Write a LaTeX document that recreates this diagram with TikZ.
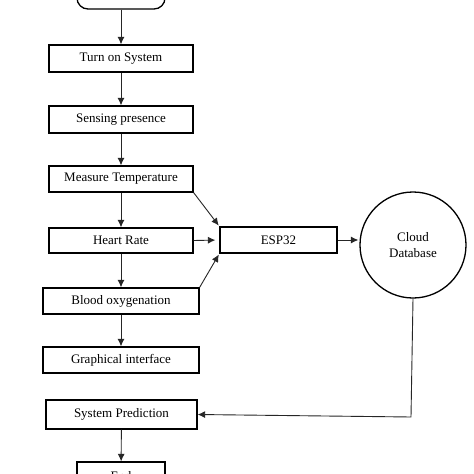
\documentclass[tikz,border=0pt]{standalone}
\usepackage{fontspec}
\setmainfont{Liberation Serif}
\usetikzlibrary{arrows.meta}
\begin{document}
\begin{tikzpicture}[x=1pt,y=-1pt,
  box/.style={draw=black,line width=1.3pt,fill=white,inner sep=0pt,font=\fontsize{13}{15}\selectfont},
  arr/.style={draw=black!85,line width=0.9pt,-{Latex[length=7.5pt,width=7pt]}}]
\clip (0,0) rectangle (474,474);
\useasboundingbox (0,0) rectangle (474,474);
\fill[white] (0,0) rectangle (474,474);
\node[box,rounded corners=11pt,minimum width=88pt,minimum height=29pt] (start) at (121,-5.5) {};
\node[box,minimum width=144pt,minimum height=27pt] (turn) at (121,58.5) {Turn on System};
\node[box,minimum width=144pt,minimum height=27pt] (sense) at (121,119.5) {Sensing presence};
\node[box,minimum width=144pt,minimum height=26pt] (meas) at (121,179) {Measure Temperature};
\node[box,minimum width=144pt,minimum height=25pt] (heart) at (121,240.5) {Heart Rate};
\node[box,minimum width=156pt,minimum height=26pt] (blood) at (121,301) {Blood oxygenation};
\node[box,minimum width=156pt,minimum height=26pt] (graph) at (121,360) {Graphical interface};
\node[box,minimum width=151pt,minimum height=29pt] (pred) at (121.5,414.5) {System Prediction};
\node[box,minimum width=88pt,minimum height=28pt] (end) at (121,476) {End};
\node[box,minimum width=117pt,minimum height=26pt] (esp) at (278.5,240) {ESP32};
\node[box,circle,minimum size=106pt,align=center] (cloud) at (413,245) {Cloud\\[1pt]Database};
\coordinate (turnc) at (411,417);
\draw[arr] (start) -- (turn);
\draw[arr] (turn) -- (sense);
\draw[arr] (sense) -- (meas);
\draw[arr] (meas) -- (heart);
\draw[arr] (heart) -- (blood);
\draw[arr] (blood) -- (graph);
\draw[arr] (pred) -- (end);
\draw[arr,shorten >=1pt] (meas.south east) -- (esp.north west);
\draw[arr,shorten >=4pt] (heart.east) -- (esp.west);
\draw[arr,shorten >=1pt] (blood.north east) -- (esp.south west);
\draw[arr,shorten >=1pt] (esp.east) -- (cloud.west |- esp.east);
\draw[arr] (cloud.south) -- (turnc) -- (pred.east);
\end{tikzpicture}
\end{document}
